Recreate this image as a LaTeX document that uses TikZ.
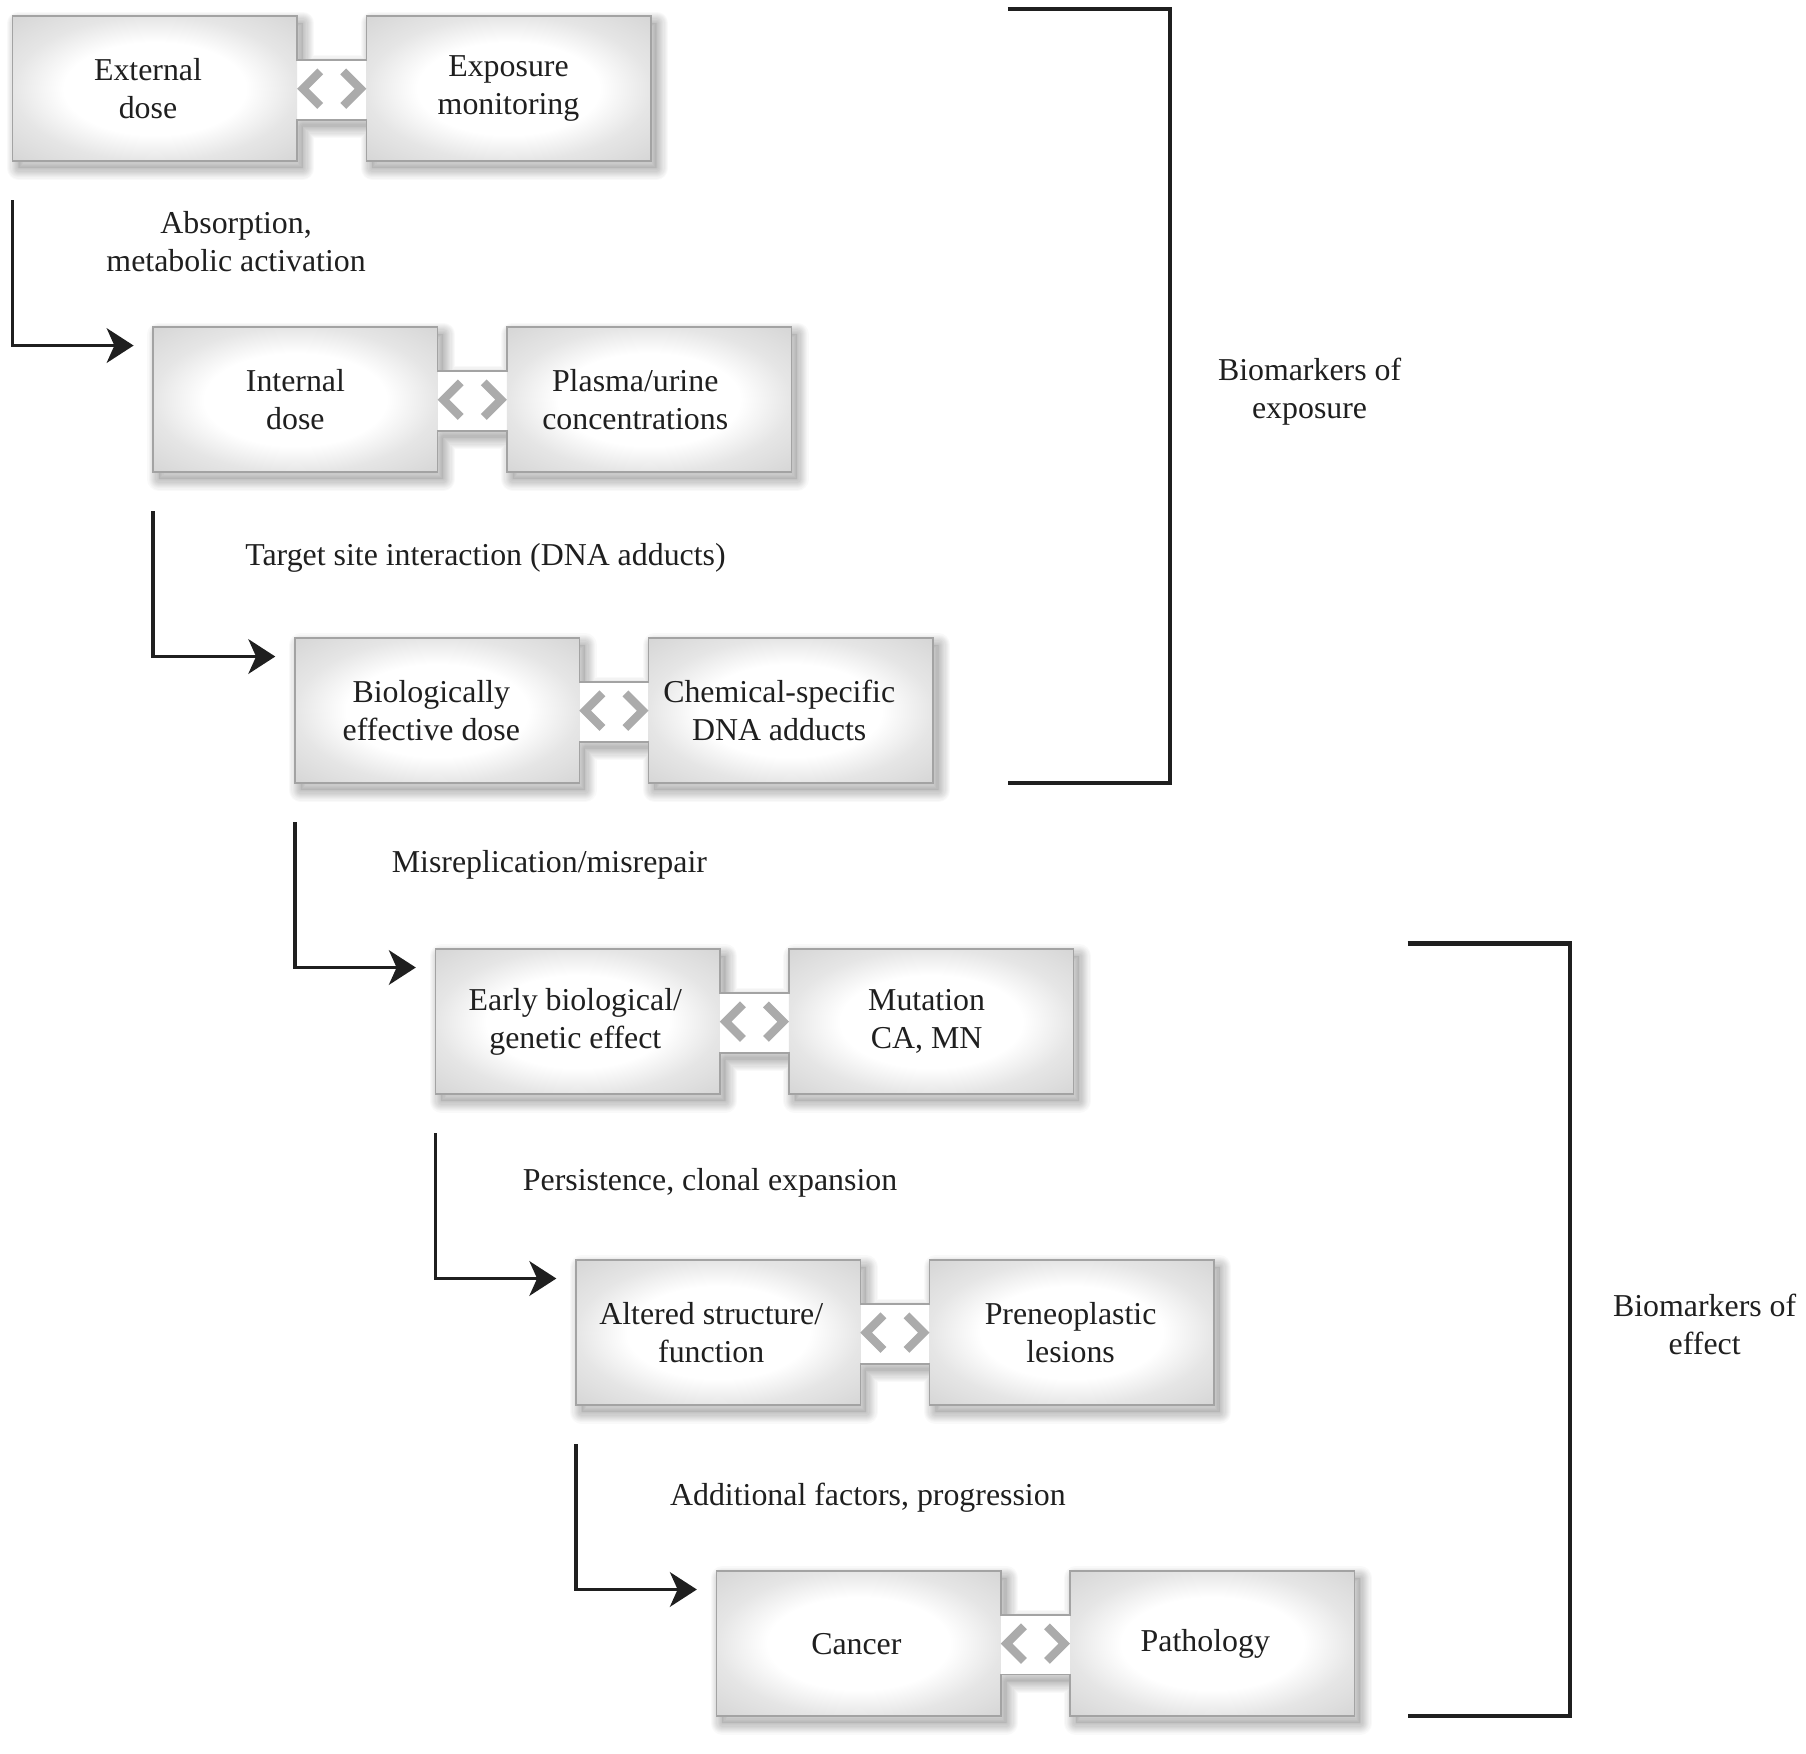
\documentclass[tikz,border=0pt]{standalone}
\usepackage{fontspec}
\setmainfont{Liberation Serif}
\usetikzlibrary{arrows.meta}
\pgfdeclareradialshading{boxshade}{\pgfpoint{0bp}{0bp}}{color(0bp)=(white); color(16bp)=(white); color(25bp)=(black!10); color(35bp)=(black!16); color(50bp)=(black!16)}
\tikzset{
  txt/.style={font=\fontsize{16.6}{19.8}\selectfont, align=center, text=black!88, inner sep=0pt},
  boxnode/.style={rectangle, minimum width=148.2pt, minimum height=75.6pt, outer sep=0pt, inner sep=0pt,
     shading=boxshade},
  outline/.style={draw=black!36, line width=0.8pt},
  chev/.style={draw=black!33, line width=4.3pt, miter limit=10},
  arr/.style={draw=black!88, line width=1.9pt, -{Stealth[length=14pt,width=18pt,inset=4pt]}},
  brk/.style={draw=black!88, line width=2.3pt},
  shadowstroke/.style={draw=black, draw opacity=0.022, line join=round, line width=#1}
}
\newcommand{\dumbbellpath}{(0,0) -- (247,0) -- (247,38) -- (307,38) -- (307,0) -- (554,0) -- (554,126) -- (307,126) -- (307,90) -- (247,90) -- (247,126) -- (0,126) -- cycle}
% #1 x0, #2 y0, #3 id, #4 left text, #5 right text, #6 left text dx, #7 right text dx
\newcommand{\boxpair}[7]{%
  \begin{scope}[shift={(#1,#2)}]
    \begin{scope}[shift={(5,6)}]
      \fill[black, fill opacity=0.07] \dumbbellpath;
      \foreach \w in {2,4,6,8,10,12,14,16,18,20}{\draw[shadowstroke=\w*0.6pt] \dumbbellpath;}
    \end{scope}
    \fill[white] \dumbbellpath;
    \node[boxnode] (L#3) at (123.5,63) {};
    \node[boxnode] (R#3) at (430.5,63) {};
    \draw[outline] \dumbbellpath;
    \draw[chev] (267,48) -- (252,63) -- (267,78);
    \draw[chev] (287,48) -- (302,63) -- (287,78);
    \node[txt] (tL#3) at (123.5+#6,63) {#4};
    \node[txt] (tR#3) at (430.5+#7,63) {#5};
  \end{scope}}
\begin{document}
\begin{tikzpicture}[x=0.6pt, y=-0.6pt]
\useasboundingbox (0,0) rectangle (1568,1522);
\fill[white] (0,0) rectangle (1568,1522);

\boxpair{11}{14}{1}{External\\dose}{Exposure\\monitoring}{-6}{0}
\boxpair{133}{284}{2}{Internal\\dose}{Plasma/urine\\concentrations}{0}{-12}
\boxpair{256}{554}{3}{Biologically\\effective dose}{Chemical-specific\\DNA adducts}{-5}{-10}
\boxpair{378}{824}{4}{Early biological/\\genetic effect}{Mutation\\CA, MN}{-2}{-4}
\boxpair{500}{1094}{5}{Altered structure/\\function}{Preneoplastic\\lesions}{-6}{-1}
\boxpair{622}{1364}{6}{Cancer}{Pathology}{-2}{-6}

% arrows
\coordinate (s1) at ([shift={(0,34)}]L1.south west);
\coordinate (s2) at ([shift={(0,34)}]L2.south west);
\coordinate (s3) at ([shift={(0,34)}]L3.south west);
\coordinate (s4) at ([shift={(0,34)}]L4.south west);
\coordinate (s5) at ([shift={(0,34)}]L5.south west);
\draw[arr] (s1) |- ([shift={(-17,16)}]L2.north west);
\draw[arr] (s2) |- ([shift={(-17,16)}]L3.north west);
\draw[arr] (s3) |- ([shift={(-17,16)}]L4.north west);
\draw[arr] (s4) |- ([shift={(-17,16)}]L5.north west);
\draw[arr] (s5) |- ([shift={(-17,16)}]L6.north west);

% labels
\node[txt] (lab1) at (205,210) {Absorption,\\metabolic activation};
\node[txt] (lab2) at (421.5,484) {Target site interaction (DNA adducts)};
\node[txt] (lab3) at (477,751) {Misreplication/misrepair};
\node[txt] (lab4) at (616.5,1027) {Persistence, clonal expansion};
\node[txt] (lab5) at (753.5,1300) {Additional factors, progression};

% brackets
\draw[brk] (875,8) -- (1016,8) -- (1016,680) -- (875,680);
\node[txt] (bx1) at (1137,340) {Biomarkers of\\exposure};
\draw[brk] (1222,819) -- (1363,819) -- (1363,1490) -- (1222,1490);
\node[txt] (bx2) at (1480,1150) {Biomarkers of\\effect};
\end{tikzpicture}
\end{document}
